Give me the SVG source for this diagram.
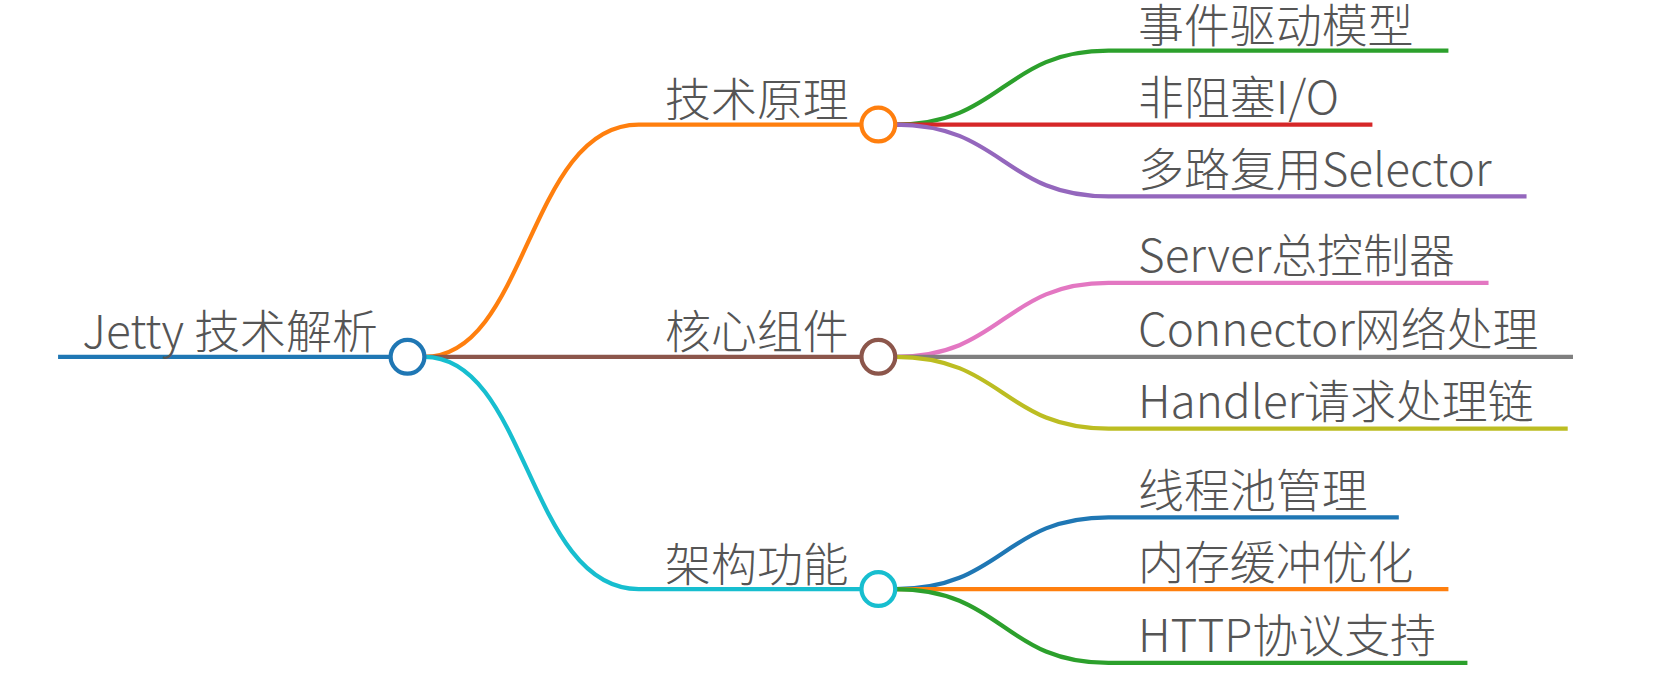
<svg xmlns="http://www.w3.org/2000/svg" width="1656" height="680" viewBox="0 0 1656 680">
<style>
text{font-family:"Noto Sans CJK SC","Noto Sans",sans-serif;font-size:43.5px;fill:#555;font-weight:300}
.c path{fill:none;stroke-width:4}
circle{fill:#fff;stroke-width:4}
</style>
<rect width="1656" height="680" fill="#fff"/>
<g transform="scale(1.0557)">
<g class="c" id="connectors">
<path d="M55 338H370" stroke="#1f77b4"/>
<path d="M402 338C500 338 500 118 605 118H815" stroke="#ff7f0e"/>
<path d="M402 338H815" stroke="#8c564b"/>
<path d="M402 338C500 338 500 558 605 558H815" stroke="#17becf"/>
<path d="M848 118C950 118 950 48 1050 48H1372" stroke="#2ca02c"/>
<path d="M848 118H1300" stroke="#d62728"/>
<path d="M848 118C950 118 950 186 1050 186H1446" stroke="#9467bd"/>
<path d="M848 338C950 338 950 268 1050 268H1410" stroke="#e377c2"/>
<path d="M848 338H1490" stroke="#7f7f7f"/>
<path d="M848 338C950 338 950 406 1050 406H1485" stroke="#bcbd22"/>
<path d="M848 558C950 558 950 490 1050 490H1325" stroke="#1f77b4"/>
<path d="M848 558H1372" stroke="#ff7f0e"/>
<path d="M848 558C950 558 950 628 1050 628H1390" stroke="#2ca02c"/>
</g>
<g id="root"><text x="78" y="330">Jetty 技术解析</text><circle cx="386" cy="338" r="16" stroke="#1f77b4"/></g>
<g id="n1"><text x="630" y="110">技术原理</text><circle cx="832" cy="118" r="16" stroke="#ff7f0e"/></g>
<g id="n2"><text x="630" y="330">核心组件</text><circle cx="832" cy="338" r="16" stroke="#8c564b"/></g>
<g id="n3"><text x="630" y="550">架构功能</text><circle cx="832" cy="558" r="16" stroke="#17becf"/></g>
<g id="l1"><text x="1078" y="40">事件驱动模型</text></g>
<g id="l2"><text x="1078" y="108">非阻塞I/O</text></g>
<g id="l3"><text x="1078" y="176">多路复用Selector</text></g>
<g id="l4"><text x="1078" y="258">Server总控制器</text></g>
<g id="l5"><text x="1078" y="328">Connector网络处理</text></g>
<g id="l6"><text x="1078" y="396">Handler请求处理链</text></g>
<g id="l7"><text x="1078" y="480">线程池管理</text></g>
<g id="l8"><text x="1078" y="548">内存缓冲优化</text></g>
<g id="l9"><text x="1078" y="618">HTTP协议支持</text></g>
</g>
</svg>
